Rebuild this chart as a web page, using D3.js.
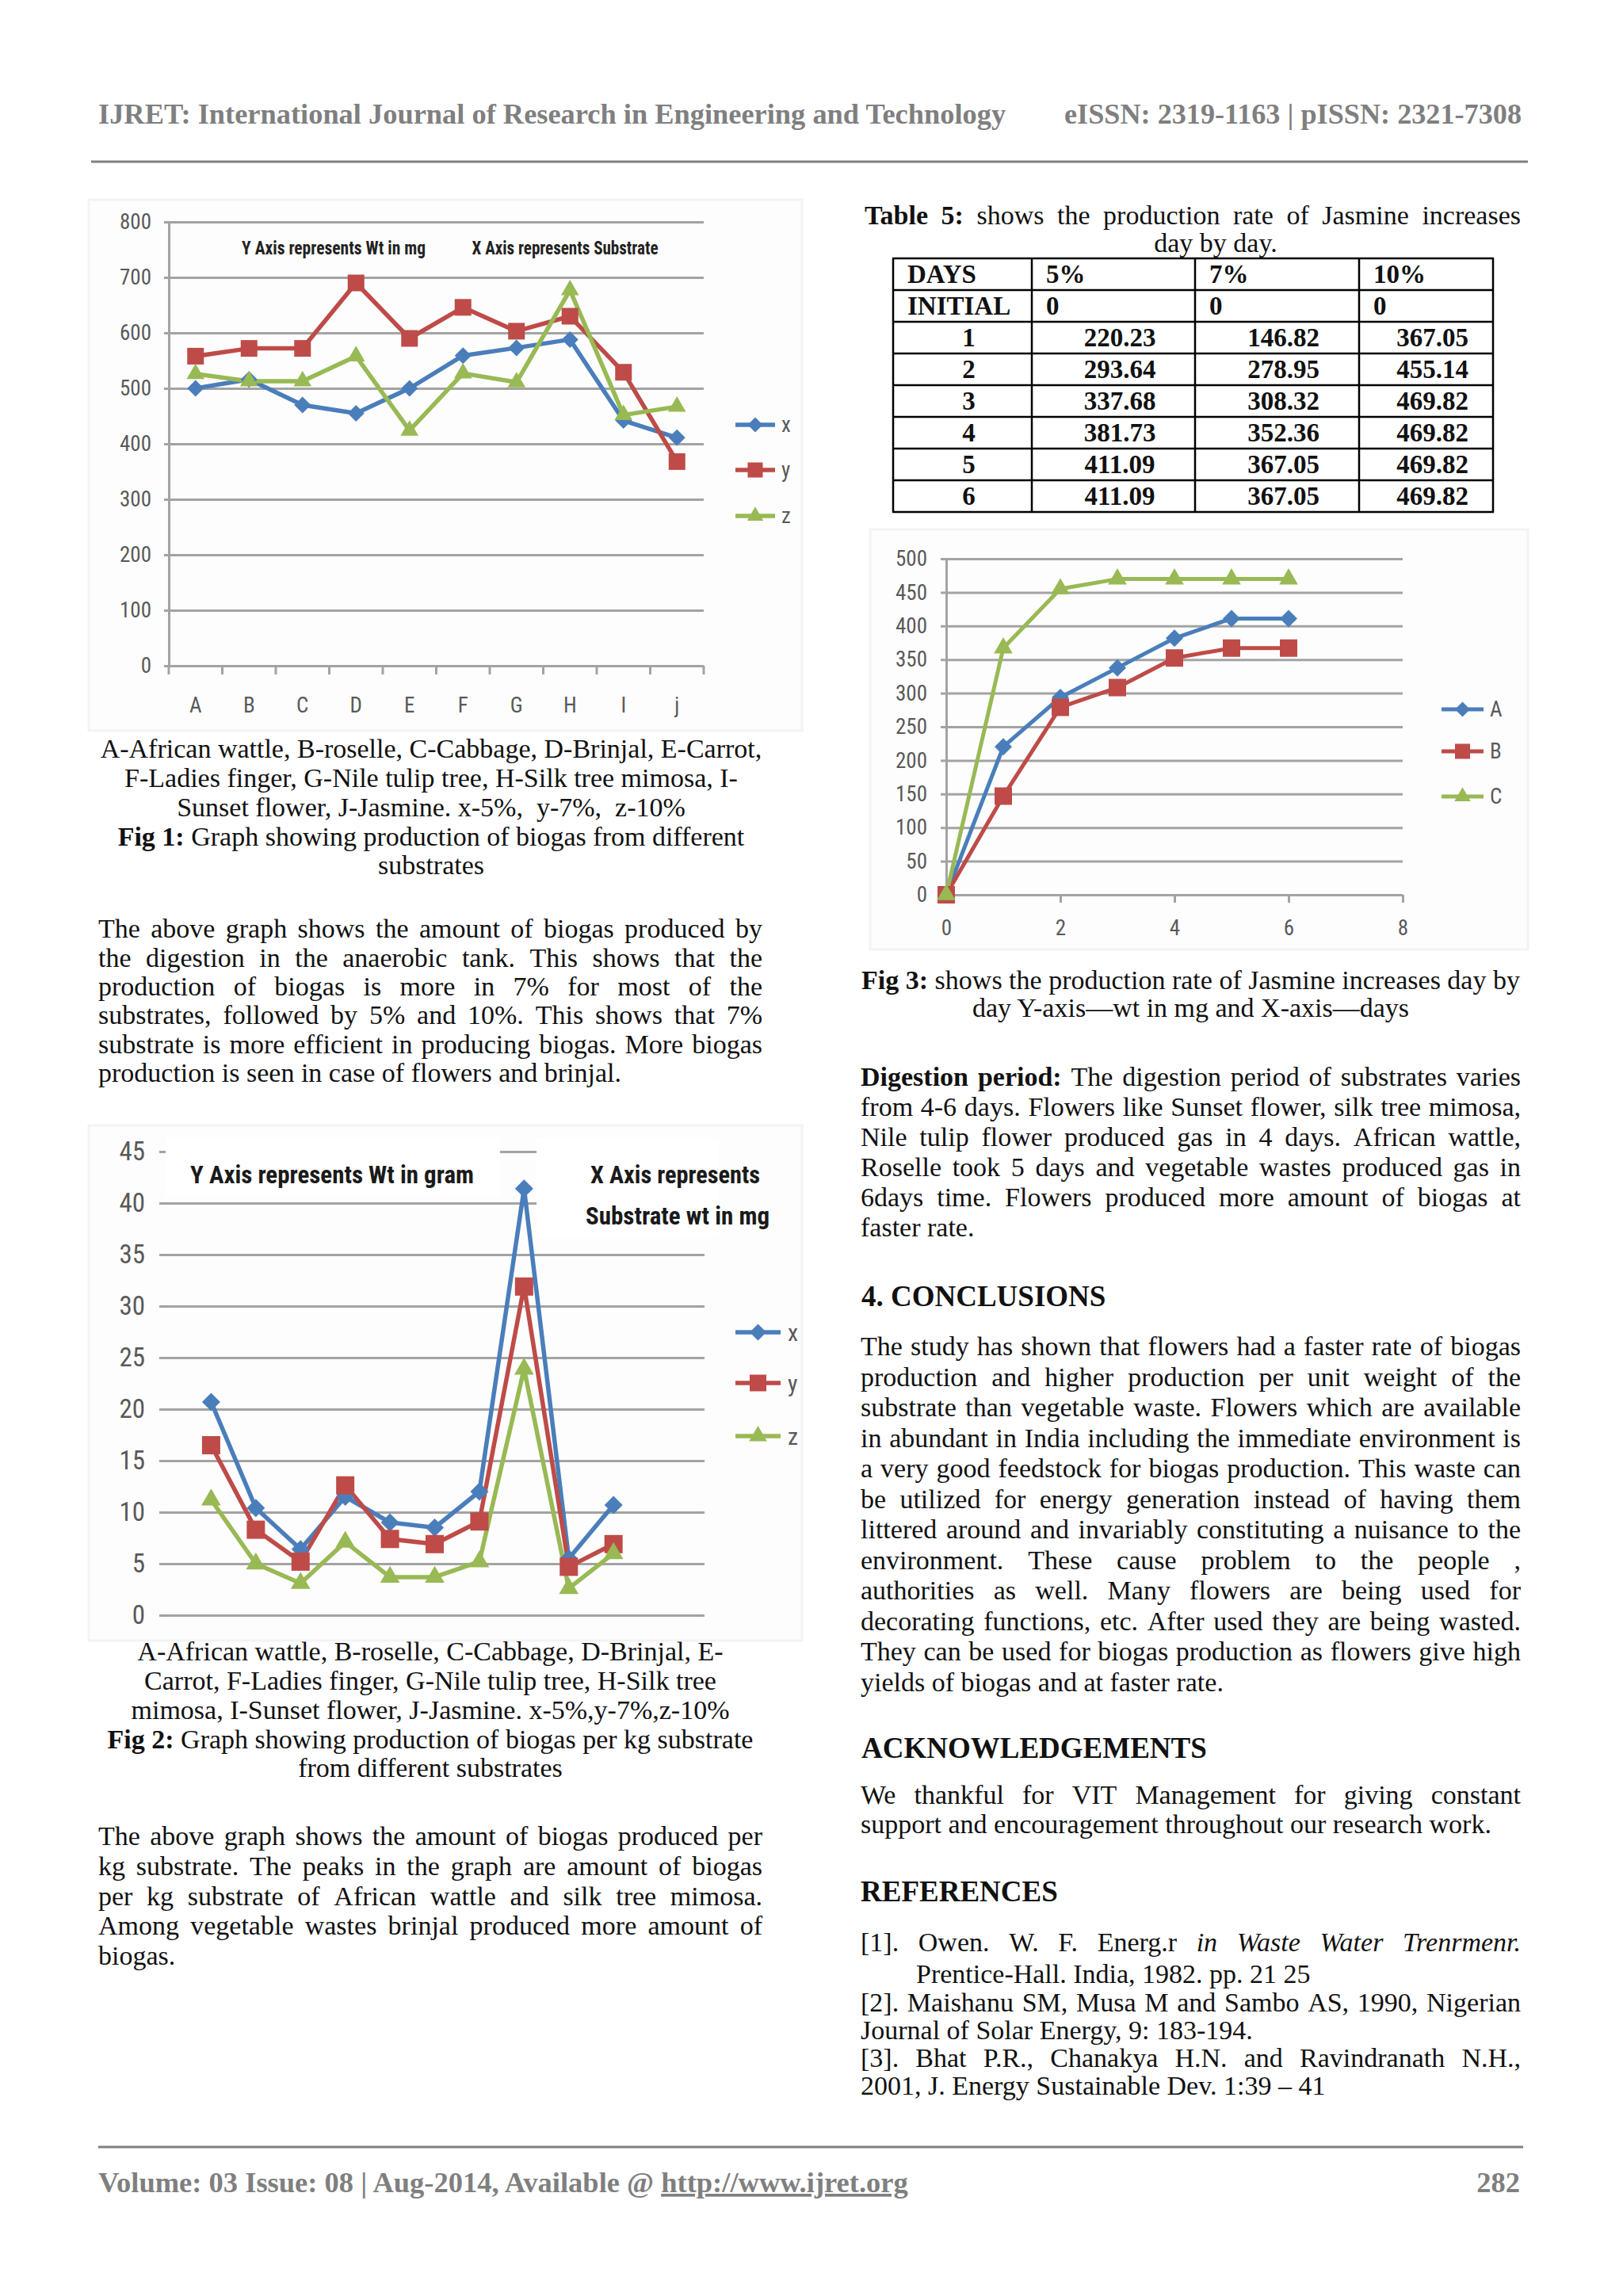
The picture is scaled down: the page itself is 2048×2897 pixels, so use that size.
<!DOCTYPE html>
<html>
<head>
<meta charset="utf-8">
<title>IJRET page 282</title>
<script src="https://cdn.jsdelivr.net/npm/d3@7"></script>
<style>
  body { margin: 0; background: #fff; }
  svg text { font-family: "Liberation Serif", "Times New Roman", serif; fill: #111; }
  .chart text { font-family: "Liberation Sans Narrow", "Roboto Condensed", "Lato", sans-serif; fill: #595959; }
</style>
</head>
<body>
<svg id="page" width="2048" height="2897"></svg>
<script>
// ---- data ----
const substrates = ["A", "B", "C", "D", "E", "F", "G", "H", "I", "j"];
const fig1X = [500, 516, 470, 455, 500, 559, 573, 588, 442, 411];
const fig1Y = [558, 572, 572, 690, 590, 646, 603, 630, 529, 368];
const fig1Z = [526, 513, 513, 558, 424, 527, 511, 677, 452, 467];
const fig1Ticks = [0, 100, 200, 300, 400, 500, 600, 700, 800];

const fig2X = [20.7, 10.4, 6.4, 11.5, 9.0, 8.5, 12.0, 41.4, 5.5, 10.7];
const fig2Y = [16.5, 8.3, 5.2, 12.6, 7.4, 6.9, 9.1, 31.9, 4.7, 6.9];
const fig2Z = [11.2, 5.0, 3.1, 7.1, 3.7, 3.7, 5.2, 23.9, 2.6, 6.0];
const fig2Ticks = [0, 5, 10, 15, 20, 25, 30, 35, 40, 45];

const days = [0, 1, 2, 3, 4, 5, 6];
const rate5 = [0, 220.23, 293.64, 337.68, 381.73, 411.09, 411.09];
const rate7 = [0, 146.82, 278.95, 308.32, 352.36, 367.05, 367.05];
const rate10 = [0, 367.05, 455.14, 469.82, 469.82, 469.82, 469.82];
const fig3YTicks = [0, 50, 100, 150, 200, 250, 300, 350, 400, 450, 500];
const fig3XTicks = [0, 2, 4, 6, 8];

const tableHead = ["DAYS", "5%", "7%", "10%"];

const BLUE = "#4A7EBB", RED = "#BE4B48", GREEN = "#98B954";
const GRID = "#a3a3a3";
const GREYTXT = "#7f7f7f";

const page = d3.select("#page");
page.append("rect").attr("width", 2048).attr("height", 2897).attr("fill", "#fff");

// ---- text helpers ----
const probe = page.append("text").attr("x", -2000).attr("y", -2000);
function textWidth(str, size, bold, italic) {
  probe.style("font-size", size + "px")
    .style("font-weight", bold ? "bold" : "normal")
    .style("font-style", italic ? "italic" : "normal")
    .text(str);
  return probe.node().getComputedTextLength();
}

function segs(line) {
  return line.split(/(\*\*.+?\*\*|_.+?_)/).filter(s => s.length).map(s => {
    if (s.startsWith("**")) return {t: s.slice(2, -2), b: true};
    if (s.startsWith("_")) return {t: s.slice(1, -1), i: true};
    return {t: s};
  });
}

function writeLine(g, line, mode, x0, x1, cy, size, bold, color) {
  const t = g.append("text")
    .attr("y", cy + size * 0.3)
    .style("font-size", size + "px")
    .style("white-space", "pre")
    .style("font-weight", bold ? "bold" : "normal");
  if (color) t.style("fill", color);
  const parts = segs(line);
  if (mode === "j") {
    const words = [];
    parts.forEach(p => p.t.split(" ").filter(w => w).forEach(w => words.push({t: w, b: p.b || bold, i: p.i})));
    const widths = words.map(w => textWidth(w.t, size, w.b, w.i));
    const gap = (x1 - x0 - d3.sum(widths)) / (words.length - 1);
    let x = x0;
    words.forEach((w, k) => {
      t.append("tspan").attr("x", x).text(w.t)
        .style("font-weight", w.b ? "bold" : "normal")
        .style("font-style", w.i ? "italic" : "normal");
      x += widths[k] + gap;
    });
  } else {
    t.attr("x", mode === "c" ? (x0 + x1) / 2 : x0)
      .attr("text-anchor", mode === "c" ? "middle" : "start");
    parts.forEach(p => t.append("tspan").text(p.t)
      .style("font-weight", p.b || bold ? "bold" : "normal")
      .style("font-style", p.i ? "italic" : "normal"));
  }
  return t;
}

function para(lines, x0, x1, y0, step, mode, size) {
  const g = page.append("g");
  lines.forEach((ln, k) => {
    let m = mode;
    if (mode === "j" && k === lines.length - 1) m = "l";
    writeLine(g, ln, m, x0, x1, y0 + k * step, size || 34, false);
  });
  return g;
}

// ---- header & footer ----
const head = page.append("g");
head.append("text").attr("x", 124).attr("y", 156)
  .style("font-size", "36.4px").style("font-weight", "bold").style("fill", GREYTXT)
  .text("IJRET: International Journal of Research in Engineering and Technology");
head.append("text").attr("x", 1920).attr("y", 156).attr("text-anchor", "end")
  .style("font-size", "36.2px").style("font-weight", "bold").style("fill", GREYTXT)
  .text("eISSN: 2319-1163 | pISSN: 2321-7308");
head.append("line").attr("x1", 115).attr("x2", 1928).attr("y1", 204).attr("y2", 204)
  .attr("stroke", "#808080").attr("stroke-width", 3);

const foot = page.append("g");
foot.append("line").attr("x1", 124).attr("x2", 1922).attr("y1", 2709).attr("y2", 2709)
  .attr("stroke", "#808080").attr("stroke-width", 3);
const ft = foot.append("text").attr("x", 124).attr("y", 2766)
  .style("font-size", "36.5px").style("font-weight", "bold").style("fill", GREYTXT).style("white-space", "pre");
ft.append("tspan").text("Volume: 03 Issue: 08 | Aug-2014, Available @ ");
ft.append("tspan").text("http://www.ijret.org").style("text-decoration", "underline");
foot.append("text").attr("x", 1918).attr("y", 2766).attr("text-anchor", "end")
  .style("font-size", "36.5px").style("font-weight", "bold").style("fill", GREYTXT).text("282");

// ---- chart helpers ----
function marker(sel, kind, size) {
  if (kind === "diamond") {
    sel.attr("d", d3.symbol(d3.symbolSquare, size * size / 2)());
  } else if (kind === "square") {
    sel.attr("d", d3.symbol(d3.symbolSquare, size * size)());
  } else {
    sel.attr("d", d3.symbol(d3.symbolTriangle, size * size * 0.5)());
  }
}
function place(kind, x, y) {
  return `translate(${x},${y})` + (kind === "diamond" ? " rotate(45)" : "");
}

function drawSeries(g, series, xf, yf, lw, msize) {
  const line = d3.line().x((d, i) => xf(i)).y(d => yf(d));
  series.forEach(s => {
    g.append("path").datum(s.values).attr("d", line)
      .attr("fill", "none").attr("stroke", s.color).attr("stroke-width", lw)
      .attr("stroke-linejoin", "round");
  });
  series.forEach(s => {
    g.append("g").selectAll("path").data(s.values).join("path")
      .call(marker, s.kind, msize)
      .attr("transform", (d, i) => place(s.kind, xf(i), yf(d)))
      .attr("fill", s.color);
  });
}

function drawLegend(g, series, xa, xb, xl, ys, lw, msize, fsize) {
  series.forEach((s, k) => {
    g.append("line").attr("x1", xa).attr("x2", xb).attr("y1", ys[k]).attr("y2", ys[k])
      .attr("stroke", s.color).attr("stroke-width", lw);
    g.append("path").call(marker, s.kind, msize)
      .attr("transform", place(s.kind, (xa + xb) / 2, ys[k])).attr("fill", s.color);
    g.append("text").attr("x", xl).attr("y", ys[k]).attr("dy", "0.35em")
      .style("font-size", fsize + "px").text(s.name);
  });
}

function gridAxis(g, scale, ticks, x0, width) {
  g.append("g").attr("transform", `translate(${x0},0)`)
    .call(d3.axisLeft(scale).tickValues(ticks).tickSize(-width).tickFormat(""))
    .call(a => {
      a.select(".domain").remove();
      a.selectAll("line").attr("stroke", GRID).attr("stroke-width", 3);
    });
}

function labelAxis(g, scale, ticks, x0, tick, pad, fsize, keepDomain) {
  g.append("g").attr("transform", `translate(${x0},0)`)
    .call(d3.axisLeft(scale).tickValues(ticks).tickSize(tick).tickPadding(pad).tickSizeOuter(0))
    .call(a => {
      if (!keepDomain) a.select(".domain").remove();
      a.select(".domain").attr("stroke", GRID).attr("stroke-width", 3);
      a.selectAll("line").attr("stroke", GRID).attr("stroke-width", 3);
      a.selectAll("text").style("font-size", fsize + "px").attr("fill", null);
    });
}

// faint frames the pasted chart pictures carry
[[112, 252, 900, 670], [112, 1420, 900, 650], [1098, 668, 830, 530]].forEach(r =>
  page.append("rect").attr("x", r[0]).attr("y", r[1]).attr("width", r[2]).attr("height", r[3])
    .attr("fill", "#fdfdfd").attr("stroke", "#f3f3f3").attr("stroke-width", 3));

// ---- Fig 1 ----
const c1 = page.append("g").attr("class", "chart");
const x1 = d3.scaleBand().domain(substrates).range([213, 888]);
const y1 = d3.scaleLinear().domain([0, 800]).range([840, 280]);
const w1 = x1.range()[1] - x1.range()[0];
gridAxis(c1, y1, fig1Ticks, x1.range()[0], w1);
labelAxis(c1, y1, fig1Ticks, x1.range()[0], 6, 16, 27, true);
c1.append("g").selectAll("line")
  .data(substrates.map(d => x1(d)).concat([x1.range()[1]]))
  .join("line")
  .attr("x1", d => d).attr("x2", d => d)
  .attr("y1", y1(0)).attr("y2", y1(0) + 11)
  .attr("stroke", GRID).attr("stroke-width", 3);
c1.append("g").attr("transform", `translate(0,${y1(0)})`)
  .call(d3.axisBottom(x1).tickSize(0).tickPadding(40))
  .call(a => {
    a.select(".domain").remove();
    a.selectAll("text").style("font-size", "27px").attr("fill", null);
  });
c1.append("text").attr("x", 421).attr("y", 313).attr("dy", "0.35em").attr("text-anchor", "middle")
  .attr("textLength", 232).attr("lengthAdjust", "spacingAndGlyphs")
  .style("font-size", "24px").style("font-weight", "bold").style("fill", "#222")
  .text("Y Axis represents Wt in mg");
c1.append("text").attr("x", 713).attr("y", 313).attr("dy", "0.35em").attr("text-anchor", "middle")
  .attr("textLength", 235).attr("lengthAdjust", "spacingAndGlyphs")
  .style("font-size", "24px").style("font-weight", "bold").style("fill", "#222")
  .text("X Axis represents Substrate");
const s1 = [
  {name: "x", values: fig1X, color: BLUE, kind: "diamond"},
  {name: "y", values: fig1Y, color: RED, kind: "square"},
  {name: "z", values: fig1Z, color: GREEN, kind: "triangle"}
];
drawSeries(c1, s1, i => x1(substrates[i]) + x1.bandwidth() / 2, y1, 5.5, 21);
drawLegend(c1, s1, 928, 978, 986, [536, 593, 651], 5.5, 19, 27);

// ---- Fig 2 ----
const c2 = page.append("g").attr("class", "chart");
const x2 = d3.scaleLinear().domain([0, 12]).range([210, 887]);
const y2 = d3.scaleLinear().domain([0, 45]).range([2038, 1453]);
gridAxis(c2, y2, fig2Ticks, 201, 688);
labelAxis(c2, y2, fig2Ticks, 201, 0, 18, 33, false);
c2.append("rect").attr("x", 209).attr("y", 1436).attr("width", 422).attr("height", 74).attr("fill", "#fff");
c2.append("rect").attr("x", 677).attr("y", 1436).attr("width", 230).attr("height", 126).attr("fill", "#fff");
c2.append("text").attr("x", 419).attr("y", 1482).attr("dy", "0.35em").attr("text-anchor", "middle")
  .attr("textLength", 358).attr("lengthAdjust", "spacingAndGlyphs")
  .style("font-size", "32px").style("font-weight", "bold").style("fill", "#1a1a1a")
  .text("Y Axis represents Wt in gram");
c2.append("text").attr("x", 852).attr("y", 1482).attr("dy", "0.35em").attr("text-anchor", "middle")
  .attr("textLength", 214).attr("lengthAdjust", "spacingAndGlyphs")
  .style("font-size", "32px").style("font-weight", "bold").style("fill", "#1a1a1a")
  .text("X Axis represents");
c2.append("text").attr("x", 855).attr("y", 1534).attr("dy", "0.35em").attr("text-anchor", "middle")
  .attr("textLength", 232).attr("lengthAdjust", "spacingAndGlyphs")
  .style("font-size", "32px").style("font-weight", "bold").style("fill", "#1a1a1a")
  .text("Substrate wt in mg");
const s2 = [
  {name: "x", values: fig2X, color: BLUE, kind: "diamond"},
  {name: "y", values: fig2Y, color: RED, kind: "square"},
  {name: "z", values: fig2Z, color: GREEN, kind: "triangle"}
];
drawSeries(c2, s2, i => x2(i + 1), y2, 5.5, 23);
drawLegend(c2, s2, 928, 985, 994, [1681, 1745, 1812], 5.5, 21, 30);

// ---- Fig 3 ----
const c3 = page.append("g").attr("class", "chart");
const x3 = d3.scaleLinear().domain([0, 8]).range([1194, 1770]);
const y3 = d3.scaleLinear().domain([0, 500]).range([1129, 705]);
gridAxis(c3, y3, fig3YTicks, x3(0), x3(8) - x3(0));
labelAxis(c3, y3, fig3YTicks, x3(0), 7, 17, 27, true);
c3.append("g").attr("transform", `translate(0,${y3(0)})`)
  .call(d3.axisBottom(x3).tickValues(fig3XTicks).tickSize(10).tickPadding(22))
  .call(a => {
    a.select(".domain").remove();
    a.selectAll("line").attr("stroke", GRID).attr("stroke-width", 3);
    a.selectAll("text").style("font-size", "27px").attr("fill", null);
  });
const s3 = [
  {name: "A", values: rate5, color: BLUE, kind: "diamond"},
  {name: "B", values: rate7, color: RED, kind: "square"},
  {name: "C", values: rate10, color: GREEN, kind: "triangle"}
];
drawSeries(c3, s3, i => x3(days[i]), y3, 5, 22);
drawLegend(c3, s3, 1819, 1872, 1880, [895, 948, 1005], 5, 19, 27);

// ---- Table 5 ----
writeLine(page, "**Table 5:** shows the production rate of Jasmine increases", "j", 1091, 1919, 273, 34, false);
writeLine(page, "day by day.", "c", 1149, 1919, 308, 34, false);
const tbl = page.append("g");
const colEdges = [1127, 1302, 1508, 1715, 1884];
const rowY = d3.scaleLinear().domain([0, 8]).range([326, 646]);
d3.range(9).forEach(r => tbl.append("line").attr("x1", colEdges[0] - 1).attr("x2", colEdges[4] + 1)
  .attr("y1", rowY(r)).attr("y2", rowY(r)).attr("stroke", "#000").attr("stroke-width", 2.5));
colEdges.forEach(cx => tbl.append("line").attr("x1", cx).attr("x2", cx)
  .attr("y1", rowY(0)).attr("y2", rowY(8)).attr("stroke", "#000").attr("stroke-width", 2.5));
const rows = [tableHead].concat(days.map((d, k) => [
  k === 0 ? "INITIAL" : String(d),
  rate5[k] === 0 ? "0" : rate5[k].toFixed(2),
  rate7[k] === 0 ? "0" : rate7[k].toFixed(2),
  rate10[k] === 0 ? "0" : rate10[k].toFixed(2)
]));
rows.forEach((row, r) => {
  const cy = (rowY(r) + rowY(r + 1)) / 2;
  row.forEach((cell, c) => {
    const left = r < 2;
    tbl.append("text")
      .attr("x", left ? colEdges[c] + 18 : (colEdges[c] + colEdges[c + 1]) / 2 + 8)
      .attr("y", cy + 11)
      .attr("text-anchor", left ? "start" : "middle")
      .style("font-size", "33px").style("font-weight", "bold")
      .text(cell);
  });
});

// ---- left column text ----
para([
  "A-African wattle, B-roselle, C-Cabbage, D-Brinjal, E-Carrot,",
  "F-Ladies finger, G-Nile tulip tree, H-Silk tree mimosa, I-",
  "Sunset flower, J-Jasmine. x-5%,  y-7%,  z-10%",
  "**Fig 1:** Graph showing production of biogas from different",
  "substrates"
], 124, 964, 946, 36.8, "c");

para([
  "The above graph shows the amount of biogas produced by",
  "the digestion in the anaerobic tank. This shows that the",
  "production of biogas is more in 7% for most of the",
  "substrates, followed by 5% and 10%. This shows that 7%",
  "substrate is more efficient in producing biogas. More biogas",
  "production is seen in case of flowers and brinjal."
], 124, 962, 1173, 36.4, "j");

para([
  "A-African wattle, B-roselle, C-Cabbage, D-Brinjal, E-",
  "Carrot, F-Ladies finger, G-Nile tulip tree, H-Silk tree",
  "mimosa, I-Sunset flower, J-Jasmine. x-5%,y-7%,z-10%",
  "**Fig 2:** Graph showing production of biogas per kg substrate",
  "from different substrates"
], 124, 962, 2085, 36.8, "c");

para([
  "The above graph shows the amount of biogas produced per",
  "kg substrate. The peaks in the graph are amount of biogas",
  "per kg substrate of African wattle and silk tree mimosa.",
  "Among vegetable wastes brinjal produced more amount of",
  "biogas."
], 124, 962, 2318, 37.7, "j");

// ---- right column text ----
para([
  "**Fig 3:** shows the production rate of Jasmine increases day by",
  "day Y-axis\u2014wt in mg and X-axis\u2014days"
], 1086, 1919, 1238, 35, "c");

para([
  "**Digestion period:** The digestion period of substrates varies",
  "from 4-6 days. Flowers like Sunset flower, silk tree mimosa,",
  "Nile tulip flower produced gas in 4 days. African wattle,",
  "Roselle took 5 days and vegetable wastes produced gas in",
  "6days time. Flowers produced more amount of biogas at",
  "faster rate."
], 1086, 1919, 1360, 38, "j");

writeLine(page, "4. CONCLUSIONS", "l", 1087, 1919, 1637, 37, true);
para([
  "The study has shown that flowers had a faster rate of biogas",
  "production and higher production per unit weight of the",
  "substrate than vegetable waste. Flowers which are available",
  "in abundant in India including the immediate environment is",
  "a very good feedstock for biogas production. This waste can",
  "be utilized for energy generation instead of having them",
  "littered around and invariably constituting a nuisance to the",
  "environment. These cause problem to the people ,",
  "authorities as well. Many flowers are being used for",
  "decorating functions, etc. After used they are being wasted.",
  "They can be used for biogas production as flowers give high",
  "yields of biogas and at faster rate."
], 1086, 1919, 1700, 38.5, "j");

writeLine(page, "ACKNOWLEDGEMENTS", "l", 1087, 1919, 2207, 37, true);
para([
  "We thankful for VIT Management for giving constant",
  "support and encouragement throughout our research work."
], 1086, 1919, 2266, 37, "j");

writeLine(page, "REFERENCES", "l", 1086, 1919, 2388, 37, true);
const refs = page.append("g");
writeLine(refs, "[1]. Owen. W. F. Energ.r _in Waste Water Trenrmenr._", "j", 1086, 1919, 2452, 34, false);
writeLine(refs, "Prentice-Hall. India, 1982. pp. 21 25", "l", 1156, 1919, 2492, 34, false);
writeLine(refs, "[2]. Maishanu SM, Musa M and Sambo AS, 1990, Nigerian", "j", 1086, 1919, 2528, 34, false);
writeLine(refs, "Journal of Solar Energy, 9: 183-194.", "l", 1086, 1919, 2563, 34, false);
writeLine(refs, "[3]. Bhat P.R., Chanakya H.N. and Ravindranath N.H.,", "j", 1086, 1919, 2598, 34, false);
writeLine(refs, "2001, J. Energy Sustainable Dev. 1:39 \u2013 41", "l", 1086, 1919, 2633, 34, false);

probe.remove();
</script>
</body>
</html>
